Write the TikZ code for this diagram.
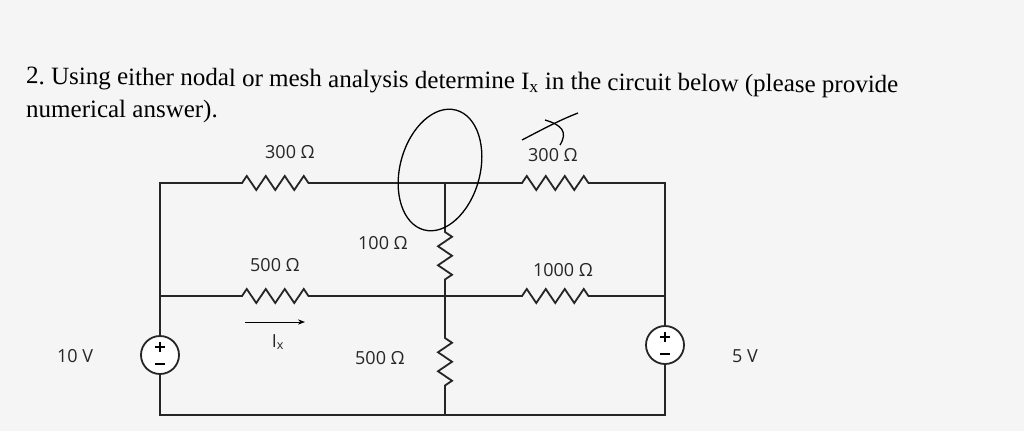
\documentclass[tikz,border=0pt]{standalone}
\usepackage{fontspec}
\setmainfont{Liberation Serif}
\newfontfamily\lab{Open Sans}
\usetikzlibrary{decorations.pathmorphing,arrows.meta}
\begin{document}
\begin{tikzpicture}[x=1pt,y=-1pt,
  wire/.style={line width=1.8pt,black!85},
  res/.style={line width=1.8pt,black!85,decorate,decoration={zigzag,segment length=19pt,amplitude=7pt,pre length=10pt,post length=10pt}},
  lbl/.style={font=\lab\fontsize{18}{18}\selectfont,text=black!85},
  src/.style={circle,draw=black!85,line width=1.8pt,minimum size=38pt,fill=white,inner sep=0pt}]
\fill[black!4] (0,0) rectangle (1024,431);
\useasboundingbox (0,0) rectangle (1024,431);
\node[anchor=west,font=\fontsize{25}{25}\selectfont,rotate=-0.6,inner sep=0pt] (t1) at (26,78) {2.\ Using either nodal or mesh analysis determine I\textsubscript{x} in the circuit below (please provide};
\node[anchor=west,font=\fontsize{25}{25}\selectfont,inner sep=0pt] (t2) at (26,111) {numerical answer).};
\coordinate (TL) at (160,183); \coordinate (TM) at (445,183); \coordinate (TR) at (665,183);
\coordinate (ML) at (160,296); \coordinate (MM) at (445,296); \coordinate (MR) at (665,296);
\coordinate (BL) at (160,415); \coordinate (BM) at (445,415); \coordinate (BR) at (665,415);
\coordinate (r1a) at (232,183); \coordinate (r1b) at (326,183);
\coordinate (r2a) at (512,183); \coordinate (r2b) at (606,183);
\coordinate (r3a) at (232,296); \coordinate (r3b) at (326,296);
\coordinate (r4a) at (512,296); \coordinate (r4b) at (606,296);
\coordinate (r5a) at (445,222); \coordinate (r5b) at (445,292);
\coordinate (r6a) at (445,328); \coordinate (r6b) at (445,400);
\node[src] (s1) at (160,355) {};
\node[src] (s2) at (665,345) {};
\draw[wire] (r1a) -- (TL) -- (ML) -- (s1) -- (BL) -- (BM) -- (BR) -- (s2) -- (MR) -- (TR) -- (r2b);
\draw[wire] (r1b) -- (TM) -- (r2a);
\draw[wire] (r3a) -- (ML); \draw[wire] (r3b) -- (MM) -- (r4a); \draw[wire] (r4b) -- (MR);
\draw[wire] (TM) -- (r5a); \draw[wire] (r5b) -- (MM) -- (r6a); \draw[wire] (r6b) -- (BM);
\foreach \a/\b in {r1a/r1b,r2a/r2b,r3a/r3b,r4a/r4b,r5a/r5b,r6a/r6b} \draw[res] (\a) -- (\b);
\foreach \s in {s1,s2}{
 \draw[line width=1.6pt] ([yshift=8pt]\s.center) ++(-5,0) -- ++(10,0);
 \draw[line width=1.6pt] ([yshift=8pt]\s.center) ++(0,-5) -- ++(0,10);
 \draw[line width=1.8pt] ([yshift=-9pt]\s.center) ++(-5,0) -- ++(10,0);}
\node[lbl] (l1) at (290,152) {300 Ω};
\node[lbl] (l2) at (553,155) {300 Ω};
\node[lbl] (l3) at (383,243) {100 Ω};
\node[lbl] (l4) at (275,265) {500 Ω};
\node[lbl] (l5) at (563,270) {1000 Ω};
\node[lbl] (l6) at (380,358) {500 Ω};
\node[lbl] (l7) at (75,356) {10 V};
\node[lbl] (l8) at (745,356) {5 V};
\coordinate (ia) at (245,322); \coordinate (ib) at (305,322);
\draw[line width=1pt,-{Stealth[length=7pt]}] (ia) -- (ib);
\node[lbl] (l9) at (278,342) {I\textsubscript{x}};
\draw[line width=1.3pt,rotate around={-15:(440,170)}] (440,170) ellipse (40pt and 62pt);
\draw[line width=1.3pt] (522,140) .. controls (545,128) and (560,120) .. (578,113);
\draw[line width=1.3pt] (545,120) .. controls (562,125) and (568,132) .. (560,145);
\end{tikzpicture}
\end{document}
